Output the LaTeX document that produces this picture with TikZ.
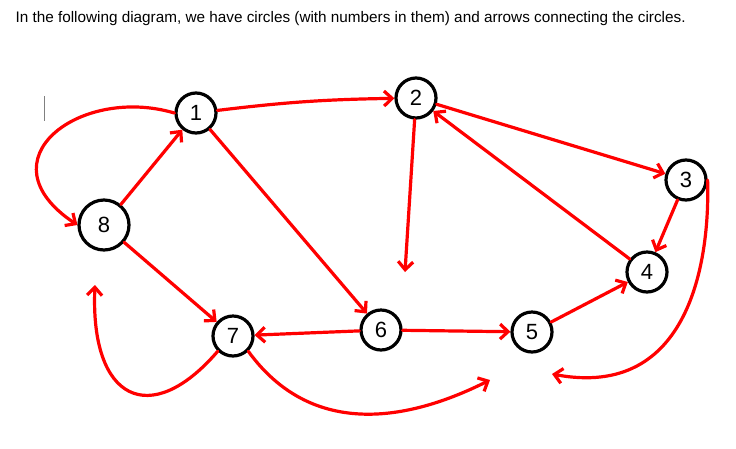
\documentclass[tikz,border=0pt]{standalone}
\usepackage{fontspec}
\setmainfont{Liberation Sans}
\usetikzlibrary{arrows.meta}
\begin{document}
\begin{tikzpicture}[x=1pt,y=-1pt,
  vtx/.style={circle,draw=black,line width=3.2pt,minimum size=40pt,inner sep=0pt,font=\fontsize{22}{22}\selectfont},
  edge/.style={draw=red,line width=3.2pt,line cap=round,-{Straight Barb[length=8pt,width=15pt]}}]
\useasboundingbox (0,0) rectangle (736,448);
\node[anchor=west,font=\fontsize{15.3}{17}\selectfont] (title) at (12,19) {In the following diagram, we have circles (with numbers in them) and arrows connecting the circles.};
\draw[gray,line width=0.8pt] (44,96) -- (44,121);
\node[vtx] (n1) at (196,113) {1};
\node[vtx] (n2) at (416,98) {2};
\node[vtx] (n3) at (686,180) {3};
\node[vtx] (n4) at (647,272) {4};
\node[vtx] (n5) at (532,332) {5};
\node[vtx] (n6) at (381,330) {6};
\node[vtx] (n7) at (233,336) {7};
\node[vtx,minimum size=50pt] (n8) at (104,225) {8};
\coordinate (e26) at (405,272);
\coordinate (e35) at (552,374);
\coordinate (e75) at (490,380);
\coordinate (e78) at (95,285);
\draw[edge] (n1) to[bend left=3] (n2);
\draw[edge] (n8) -- (n1);
\draw[edge] (n1.west) .. controls (80,85) and (-20,160) .. (n8.west);
\draw[edge] (n1) -- (n6);
\draw[edge] (n2) -- (n3);
\draw[edge] (n2) -- (e26);
\draw[edge] (n4) -- (n2);
\draw[edge] (n3) -- (n4);
\draw[edge] (n5) -- (n4);
\draw[edge] (n6) -- (n7);
\draw[edge] (n6) -- (n5);
\draw[edge] (n8) -- (n7);
\draw[edge] (n3.east) .. controls (710,260) and (690,400) .. (e35);
\draw[edge] (n7.south east) .. controls (320,450) and (430,410) .. (e75);
\draw[edge] (n7.south west) .. controls (150,430) and (90,400) .. (e78);
\end{tikzpicture}
\end{document}
